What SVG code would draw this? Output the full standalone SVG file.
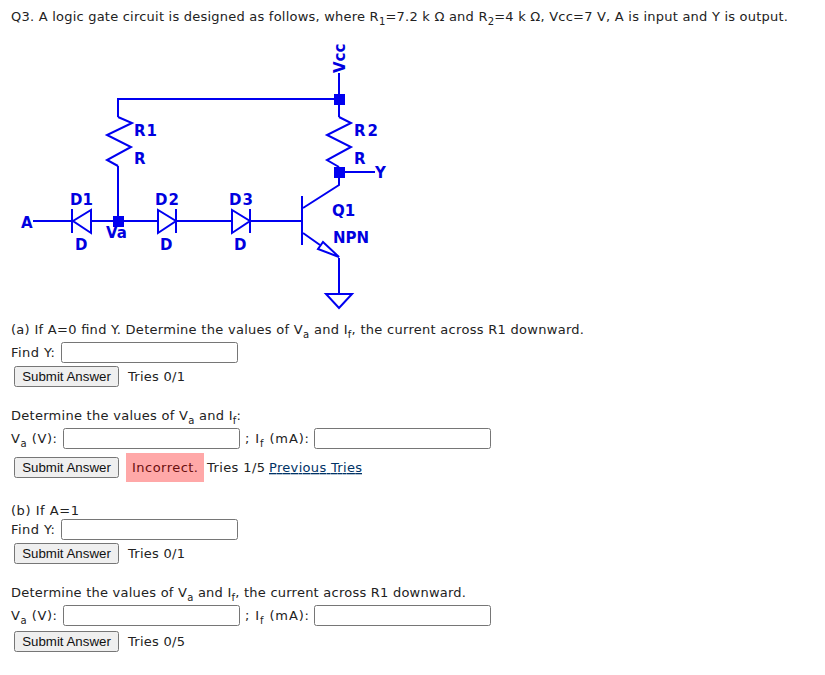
<svg xmlns="http://www.w3.org/2000/svg" width="825" height="675" viewBox="0 0 825 675">
<style>
text{font-family:"DejaVu Sans",Verdana,sans-serif;font-size:13px;fill:#222}
.sub{font-size:10px}
.btn{font-family:"Liberation Sans",Arial,sans-serif;font-size:13.3px;fill:#111;text-anchor:middle}
.b{fill:#efefef;stroke:#767676;stroke-width:1}
.i{fill:#fff;stroke:#767676;stroke-width:1}
.w{fill:none;stroke:#0000f0;stroke-width:2}
.j{fill:#0000f0}
.l{font-weight:bold;font-size:15px;fill:#0000e0}
</style>
<rect width="825" height="675" fill="#fff"/>
<text x="11" y="21" textLength="777">Q3. A logic gate circuit is designed as follows, where R<tspan class="sub" dy="4">1</tspan><tspan dy="-4">=7.2 k Ω and R</tspan><tspan class="sub" dy="4">2</tspan><tspan dy="-4">=4 k Ω, Vcc=7 V, A is input and Y is output.</tspan></text>
<g id="connectors">
<path class="w" d="M33 221H72M91 221H158M176 221H232M250 221H302M118 166V221M118 117V99H339M339 73V117M339 167V185L303 208M339 258V293M303 233L320 245M339 172H375"/>
</g>
<g id="R1"><path class="w" d="M118 117L132 123L107 135L131 147L107 160L118 166"/><text class="l" x="134" y="136" textLength="23">R1</text><text class="l" x="134" y="164">R</text></g>
<g id="R2"><path class="w" d="M339 117L351 123L327 135L351 147L327 160L339 167"/><text class="l" x="354" y="136" textLength="24">R2</text><text class="l" x="354" y="164">R</text></g>
<g id="D1"><path class="w" d="M72 209V233M91 210V233L73 221Z"/><text class="l" x="70" y="205" textLength="23">D1</text><text class="l" x="75" y="250">D</text></g>
<g id="D2"><path class="w" d="M176 209V233M158 210V233L176 221Z"/><text class="l" x="155" y="205" textLength="24">D2</text><text class="l" x="160" y="250">D</text></g>
<g id="D3"><path class="w" d="M250 209V233M232 210V233L250 221Z"/><text class="l" x="229" y="205" textLength="24">D3</text><text class="l" x="234" y="250">D</text></g>
<g id="Va"><rect class="j" x="113" y="216" width="11" height="11"/><text class="l" x="106" y="238">Va</text></g>
<g id="A"><text class="l" x="21" y="228">A</text></g>
<g id="Vcc"><rect class="j" x="334" y="94" width="11" height="11"/><text class="l" transform="translate(345 73) rotate(-90)" x="0" y="0">Vcc</text></g>
<g id="Y"><rect class="j" x="334" y="167" width="11" height="11"/><text class="l" x="375" y="178">Y</text></g>
<g id="Q1"><path class="w" d="M302 196V245M339 257L323 242L318 249Z"/><text class="l" x="332" y="216">Q1</text><text class="l" x="333" y="243">NPN</text></g>
<g id="GND"><path class="w" d="M326 294H352L339 308Z"/></g>
<g id="partA">
<text x="11" y="334" textLength="573">(a) If A=0 find Y. Determine the values of V<tspan class="sub" dy="4">a</tspan><tspan dy="-4"> and I</tspan><tspan class="sub" dy="4">f</tspan><tspan dy="-4">, the current across R1 downward.</tspan></text>
<text x="11" y="357" textLength="44">Find Y:</text>
<rect class="i" x="61.500" y="342.500" width="176" height="20" rx="2"/>
<rect class="b" x="14.500" y="366.500" width="104" height="20" rx="2"/>
<text class="btn" x="66.500" y="381">Submit Answer</text>
<text x="128" y="381" textLength="57">Tries 0/1</text>
<text x="11" y="420" textLength="230">Determine the values of V<tspan class="sub" dy="4">a</tspan><tspan dy="-4"> and I</tspan><tspan class="sub" dy="4">f</tspan><tspan dy="-4">:</tspan></text>
<text x="11" y="443" textLength="46">V<tspan class="sub" dy="4">a</tspan><tspan dy="-4"> (V):</tspan></text>
<rect class="i" x="63.500" y="428.500" width="176" height="20" rx="2"/>
<text x="245" y="443" textLength="64">; I<tspan class="sub" dy="4">f</tspan><tspan dy="-4"> (mA):</tspan></text>
<rect class="i" x="314.500" y="428.500" width="176" height="20" rx="2"/>
<rect class="b" x="14.500" y="457.500" width="104" height="20" rx="2"/>
<text class="btn" x="66.500" y="472">Submit Answer</text>
<rect x="126" y="453" width="78" height="29" fill="#ffa8a8"/>
<text x="132" y="472" textLength="66" style="fill:#6b0f0f">Incorrect.</text>
<text x="207" y="472" textLength="58">Tries 1/5</text>
<text x="269" y="472" textLength="93" style="fill:#003366" text-decoration="underline">Previous Tries</text>
</g>
<g id="partB">
<text x="11" y="515" textLength="68">(b) If A=1</text>
<text x="11" y="534" textLength="44">Find Y:</text>
<rect class="i" x="61.500" y="519.500" width="176" height="20" rx="2"/>
<rect class="b" x="14.500" y="543.500" width="104" height="20" rx="2"/>
<text class="btn" x="66.500" y="558">Submit Answer</text>
<text x="128" y="558" textLength="57">Tries 0/1</text>
<text x="11" y="597" textLength="455">Determine the values of V<tspan class="sub" dy="4">a</tspan><tspan dy="-4"> and I</tspan><tspan class="sub" dy="4">f</tspan><tspan dy="-4">, the current across R1 downward.</tspan></text>
<text x="11" y="620" textLength="46">V<tspan class="sub" dy="4">a</tspan><tspan dy="-4"> (V):</tspan></text>
<rect class="i" x="63.500" y="605.500" width="176" height="20" rx="2"/>
<text x="245" y="620" textLength="64">; I<tspan class="sub" dy="4">f</tspan><tspan dy="-4"> (mA):</tspan></text>
<rect class="i" x="314.500" y="605.500" width="176" height="20" rx="2"/>
<rect class="b" x="14.500" y="631.500" width="104" height="20" rx="2"/>
<text class="btn" x="66.500" y="646">Submit Answer</text>
<text x="128" y="646" textLength="57">Tries 0/5</text>
</g>
</svg>
